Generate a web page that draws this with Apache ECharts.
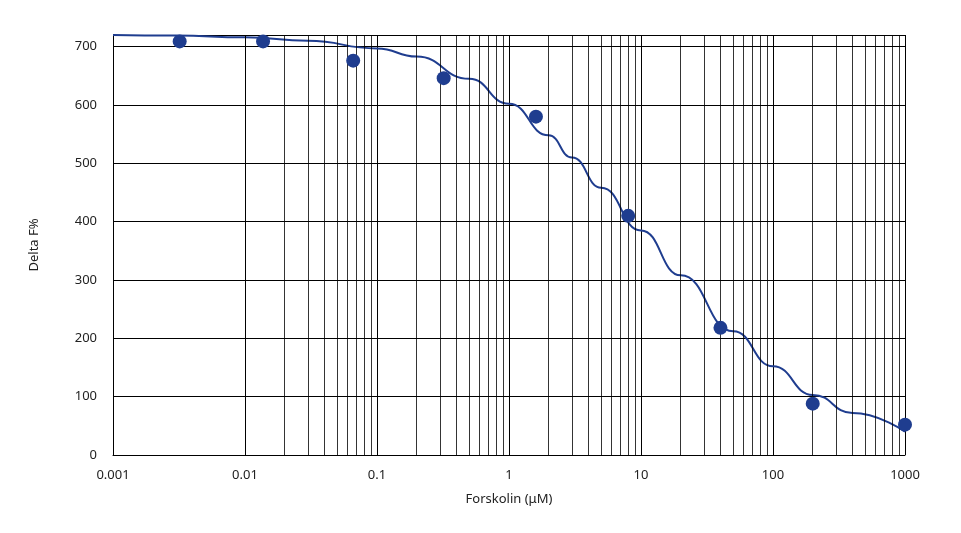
<!DOCTYPE html>
<html><head><meta charset="utf-8">
<script src="https://cdn.jsdelivr.net/npm/echarts@6/dist/echarts.min.js"></script>
<style>html,body{margin:0;background:#fff}#c{width:961px;height:533px}</style>
</head><body><div id="c"></div>
<script>
// measured points
const doseX = [0.0032, 0.0137, 0.066, 0.32, 1.6, 8, 40, 200, 1000]
const deltaF = [709, 709, 676, 646, 580, 410, 218, 88, 52]
// fitted curve
const curveX = [0.001, 0.003, 0.01, 0.03, 0.1, 0.2, 0.5, 1, 2, 3, 5, 10, 20, 50, 100, 200, 400, 1000]
const curveY = [720, 719, 716, 710, 697, 683, 645, 602, 548, 510, 458, 385, 308, 212, 152, 103, 72, 40]

const minorX = []
for (let e = -3; e < 3; e++) {
  for (let m = 2; m <= 9; m++) minorX.push({ xAxis: m * Math.pow(10, e) })
}
const navy = '#1f3d8f'
const chart = echarts.init(document.getElementById('c'))
chart.setOption({
  animation: false,
  grid: { left: 113, right: 56, top: 35, bottom: 78 },
  xAxis: {
    type: 'log', min: 0.001, max: 1000, logBase: 10,
    name: 'Forskolin (μM)', nameLocation: 'middle', nameGap: 38,
    nameTextStyle: { color: '#222', fontSize: 13, fontFamily: 'Noto Sans' },
    axisLine: { lineStyle: { color: '#000' } },
    axisTick: { show: false },
    axisLabel: { color: '#222', fontSize: 13, fontFamily: 'Noto Sans', margin: 14,
      formatter: v => String(+v.toPrecision(3)) },
    splitLine: { show: true, lineStyle: { color: '#000', width: 1 } }
  },
  yAxis: {
    type: 'value', min: 0, max: 720, interval: 100,
    name: 'Delta F%', nameLocation: 'middle', nameGap: 72,
    nameTextStyle: { color: '#222', fontSize: 13, fontFamily: 'Noto Sans' },
    axisLine: { show: true, lineStyle: { color: '#000' } },
    axisTick: { show: false },
    axisLabel: { color: '#222', fontSize: 13, fontFamily: 'Noto Sans', margin: 16,
      formatter: v => (v % 100 === 0 ? v : '') },
    splitLine: { show: true, lineStyle: { color: '#000', width: 1 } }
  },
  series: [
    {
      type: 'line', data: curveX.map((x, i) => [x, curveY[i]]),
      smooth: 0.5, smoothMonotone: 'x', showSymbol: false, lineStyle: { color: navy, width: 2 },
      markLine: { silent: true, symbol: 'none', label: { show: false },
        lineStyle: { color: '#000', width: 0.8, type: 'solid' }, data: minorX }
    },
    {
      type: 'scatter', data: doseX.map((x, i) => [x, deltaF[i]]),
      symbolSize: 14, itemStyle: { color: navy, opacity: 1 }, z: 5
    }
  ]
})
</script></body></html>
